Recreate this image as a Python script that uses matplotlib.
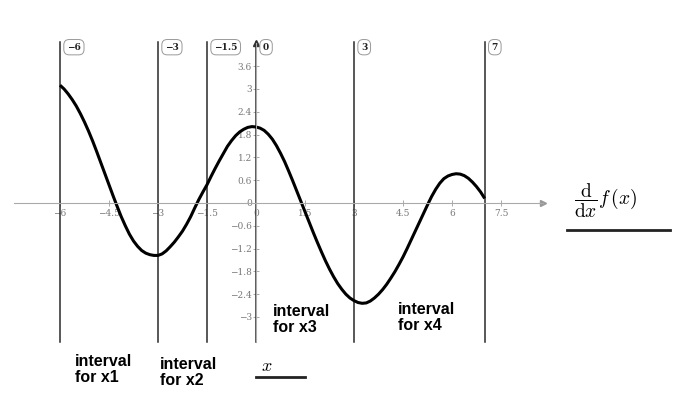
import matplotlib
matplotlib.use('Agg')
import matplotlib.pyplot as plt

x_step = 0.125
dfdx = [3.10, 3.00, 2.87, 2.72, 2.55, 2.35, 2.13, 1.89,
        1.63, 1.35, 1.06, 0.77, 0.48, 0.19, -0.09, -0.36,
        -0.60, -0.82, -1.00, -1.14, -1.25, -1.32, -1.36, -1.38,
        -1.38, -1.34, -1.26, -1.15, -1.03, -0.89, -0.74, -0.56,
        -0.36, -0.13, 0.09, 0.29, 0.48, 0.70, 0.91, 1.11,
        1.30, 1.49, 1.64, 1.77, 1.87, 1.94, 1.99, 2.01,
        2.00, 1.97, 1.91, 1.81, 1.68, 1.51, 1.31, 1.09,
        0.84, 0.58, 0.31, 0.04, -0.23, -0.50, -0.77, -1.03,
        -1.28, -1.52, -1.74, -1.94, -2.12, -2.27, -2.40, -2.50,
        -2.57, -2.62, -2.64, -2.63, -2.58, -2.50, -2.40, -2.28,
        -2.14, -1.98, -1.81, -1.62, -1.42, -1.20, -0.97, -0.74,
        -0.51, -0.28, -0.05, 0.17, 0.36, 0.52, 0.64, 0.71,
        0.75, 0.77, 0.76, 0.72, 0.65, 0.55, 0.43, 0.29,
        0.12]
x_vals = [-6 + x_step * i for i in range(len(dfdx))]

# vertical marker lines (interval bounds)
marker_x = [-6, -3, -1.5, 0, 3, 7]
marker_labels = ['\u22126', '\u22123', '\u22121.5', '0', '3', '7']

xticks = [-6, -4.5, -3, -1.5, 0, 1.5, 3, 4.5, 6, 7.5]
yticks = [-3, -2.4, -1.8, -1.2, -0.6, 0, 0.6, 1.2, 1.8, 2.4, 3, 3.6]

# interval notes: text, left px, top px
notes = [('interval\nfor x1', 75, 354),
         ('interval\nfor x2', 160, 357),
         ('interval\nfor x3', 273, 304),
         ('interval\nfor x4', 398, 302)]

W, H = 683, 401
plt.rcParams['mathtext.fontset'] = 'cm'

fig = plt.figure(figsize=(W / 100, H / 100), dpi=100)
ax = fig.add_axes([0, 0, 1, 1])
ax.set_xlim(-7.836, 13.07)
ax.set_ylim(-5.211, 5.342)
ax.patch.set_visible(False)

for s in ['top', 'right']:
    ax.spines[s].set_visible(False)
ax.spines['bottom'].set_position(('data', 0))
ax.spines['left'].set_position(('data', 0))
ax.spines['bottom'].set_bounds(-7.4, 8.8)
ax.spines['left'].set_bounds(-3.66, 4.2)
ax.spines['bottom'].set_color('#aaaaaa')
ax.spines['left'].set_color('#aaaaaa')
ax.spines['bottom'].set_linewidth(0.8)
ax.spines['left'].set_linewidth(0.8)

# arrow heads
ax.plot(8.8, 0, '>', color='#999999', ms=4, clip_on=False)
ax.plot(0, 4.2, '^', color='#333333', ms=4, clip_on=False)

def fmt(v):
    return f'{v:g}'.replace('-', '\u2212')

ax.set_xticks(xticks)
ax.set_xticklabels([fmt(v) for v in xticks])
ax.set_yticks(yticks)
ax.set_yticklabels([fmt(v) for v in yticks])
ax.tick_params(direction='inout', length=4, width=0.7, color='#aaaaaa',
               labelsize=6.5, labelcolor='#777777')
ax.tick_params(axis='x', pad=2)
ax.tick_params(axis='y', pad=1)
for lab in ax.get_xticklabels() + ax.get_yticklabels():
    lab.set_family('DejaVu Serif')

for mx, ml in zip(marker_x, marker_labels):
    ax.plot([mx, mx], [-3.66, 4.24], color='#2a2a2a', lw=1.1)
    ax.annotate(ml, xy=(mx, 4.10), xytext=(7, 0), textcoords='offset pixels',
                ha='left', va='center', fontsize=6.5, fontweight='bold',
                family='DejaVu Serif', color='#222222',
                bbox=dict(boxstyle='round,pad=0.35,rounding_size=0.6',
                          fc='white', ec='#999999', lw=0.7))

ax.plot(x_vals, dfdx, color='black', lw=2.2, solid_joinstyle='round',
        solid_capstyle='butt')

for txt, px, py in notes:
    fig.text(px / W, 1 - py / H, txt, ha='left', va='top', fontsize=11.5,
             fontweight='bold', family='Liberation Sans', linespacing=1.1)

# axis labels (Mathcad style, underlined)
fig.text(267 / W, 1 - 366 / H, r'$x$', ha='center', va='center', fontsize=13)
fig.add_artist(plt.Line2D([256 / W, 305 / W], [1 - 377 / H, 1 - 377 / H],
                          color='#222222', lw=2))
fig.text(606 / W, 1 - 201 / H, r'$\dfrac{\mathrm{d}}{\mathrm{d}x}f\,(x)$',
         ha='center', va='center', fontsize=14)
fig.add_artist(plt.Line2D([567 / W, 670 / W], [1 - 230 / H, 1 - 230 / H],
                          color='#222222', lw=2))

fig.savefig('out.png', dpi=100)
